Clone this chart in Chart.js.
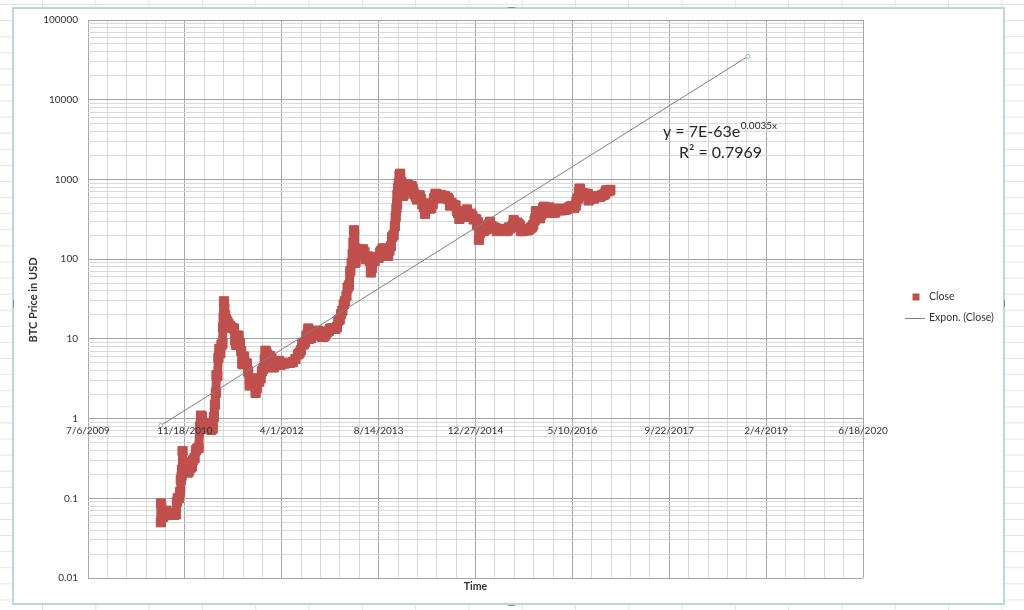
<!DOCTYPE html>
<html>
<head>
<meta charset="utf-8">
<script src="https://cdn.jsdelivr.net/npm/chart.js@4.4.1/dist/chart.umd.min.js"></script>
<style>
  html, body { margin: 0; padding: 0; }
  body {
    width: 1024px; height: 610px; overflow: hidden; position: relative;
    background-color: #ffffff;
    background-image:
      linear-gradient(to right, #E3E3E3 0, #E3E3E3 1px, transparent 1px),
      linear-gradient(to bottom, #E3E3E3 0, #E3E3E3 1px, transparent 1px);
    background-size: 53.3px 100%, 100% 16.1px;
    background-position: 42px 0, 0 4px;
  }
  #frame {
    position: absolute; left: 12px; top: 7px; width: 989px; height: 594px;
    border: 2px solid #B7DADA; background: #ffffff;
  }
  .h { position: absolute; width: 7px; height: 3px;
       background-image: radial-gradient(circle, #8a8a8a 0.6px, transparent 0.8px);
       background-size: 2px 3px; }
  .v { position: absolute; width: 3px; height: 7px;
       background-image: radial-gradient(circle, #8a8a8a 0.6px, transparent 0.8px);
       background-size: 3px 2px; }
  #c { position: absolute; left: 0; top: 0; }
</style>
</head>
<body>
<div id="frame"></div>
<div class="h" style="left:508px;top:6px"></div>
<div class="h" style="left:508px;top:604px"></div>
<div class="v" style="left:1003px;top:300px"></div>
<div class="v" style="left:12px;top:300px"></div>
<canvas id="c" width="1024" height="610"></canvas>
<script>
// ---- axis ticks (Excel date serials) ----
const xTickValues = [40000, 40500, 41000, 41500, 42000, 42500, 43000, 43500, 44000];
const xTickLabels = ['7/6/2009', '11/18/2010', '4/1/2012', '8/14/2013', '12/27/2014', '5/10/2016', '9/22/2017', '2/4/2019', '6/18/2020'];
const yTickValues = [0.01, 0.1, 1, 10, 100, 1000, 10000, 100000];
const yTickLabels = ['0.01', '0.1', '1', '10', '100', '1000', '10000', '100000'];

// ---- Close series: x = Excel date serial, y = price in USD ----
const closeDates = [
  40376, 40377, 40381, 40387, 40395, 40405, 40415, 40426, 40436, 40446, 40454, 40459, 40463, 40469, 40475, 40479,
  40483, 40486, 40488, 40491, 40496, 40502, 40509, 40515, 40522, 40529, 40536, 40543,
  40550, 40557, 40564, 40571, 40578, 40583, 40588, 40595, 40602, 40609, 40616, 40623, 40630, 40637, 40644, 40650,
  40655, 40660, 40663, 40668, 40673, 40678, 40683, 40689, 40694, 40697, 40700, 40702, 40704, 40708, 40713, 40719,
  40725, 40732, 40739, 40746, 40753, 40760, 40765, 40770, 40777, 40784, 40791, 40796, 40801, 40806, 40813, 40820,
  40827, 40834, 40838, 40845, 40852, 40859, 40865, 40871, 40877, 40884, 40891, 40898, 40905,
  40912, 40916, 40920, 40926, 40933, 40940, 40947, 40954, 40959, 40966, 40973, 40980, 40987, 40994, 41001, 41015,
  41029, 41043, 41057, 41071, 41085, 41092, 41099, 41106, 41113, 41120, 41127, 41134, 41137, 41140, 41145, 41152,
  41159, 41166, 41173, 41180, 41187, 41194, 41201, 41208, 41215, 41222, 41229, 41236, 41243, 41250, 41257, 41264, 41271,
  41278, 41285, 41292, 41299, 41306, 41313, 41320, 41327, 41334, 41340, 41347, 41354, 41361, 41366, 41370, 41373,
  41375, 41378, 41381, 41385, 41392, 41399, 41406, 41413, 41420, 41427, 41434, 41441, 41448, 41455, 41460, 41465,
  41472, 41479, 41486, 41493, 41500, 41507, 41514, 41521, 41528, 41535, 41542, 41549, 41556, 41563, 41570, 41577,
  41584, 41588, 41592, 41595, 41597, 41600, 41604, 41608, 41611, 41614, 41617, 41621, 41625, 41629, 41634, 41638,
  41643, 41647, 41651, 41657, 41664, 41671, 41676, 41680, 41685, 41692, 41698, 41705, 41712, 41719, 41726, 41733,
  41739, 41744, 41751, 41758, 41765, 41772, 41779, 41786, 41793, 41800, 41807, 41814, 41821, 41828, 41835, 41842,
  41849, 41856, 41863, 41869, 41876, 41883, 41890, 41897, 41904, 41911, 41917, 41922, 41929, 41936, 41943, 41950,
  41956, 41963, 41970, 41977, 41984, 41991, 41998, 42004,
  42008, 42012, 42016, 42018, 42022, 42029, 42036, 42043, 42050, 42057, 42064, 42071, 42075, 42082, 42089, 42096,
  42103, 42110, 42117, 42124, 42131, 42138, 42145, 42152, 42159, 42166, 42173, 42180, 42187, 42194, 42197, 42201,
  42208, 42215, 42222, 42229, 42235, 42242, 42249, 42256, 42263, 42270, 42277, 42284, 42291, 42298, 42305, 42309,
  42312, 42316, 42320, 42326, 42333, 42339, 42343, 42349, 42353, 42359, 42366,
  42374, 42381, 42384, 42391, 42398, 42405, 42412, 42419, 42426, 42433, 42440, 42447, 42454, 42461, 42468, 42475,
  42482, 42489, 42496, 42503, 42510, 42517, 42521, 42526, 42531, 42534, 42537, 42540, 42543, 42547, 42552, 42559,
  42566, 42573, 42580, 42584, 42591, 42598, 42605, 42612, 42619, 42626, 42633, 42640, 42647, 42654, 42661, 42668,
  42671, 42675, 42682, 42689, 42696
];
const closeValues = [
  0.05, 0.086, 0.065, 0.058, 0.061, 0.07, 0.065, 0.062, 0.062, 0.062, 0.063, 0.09, 0.1, 0.1, 0.12, 0.17,
  0.19, 0.23, 0.39, 0.27, 0.24, 0.28, 0.28, 0.21, 0.22, 0.24, 0.25, 0.30,
  0.32, 0.40, 0.42, 0.43, 0.80, 1.09, 1.06, 0.88, 0.86, 0.88, 0.87, 0.77, 0.79, 0.72, 0.75, 1.05,
  1.5, 2.1, 3.5, 3.4, 5.8, 7.5, 6.6, 8.4, 8.7, 14, 18.5, 29.6, 24, 19.5, 17.5, 16.5,
  15.4, 14.5, 13.9, 13.7, 13.5, 9.5, 8.4, 11.0, 10.9, 8.9, 7.0, 4.9, 4.8, 6.0, 5.0, 4.9,
  3.9, 2.6, 3.1, 3.2, 3.0, 2.9, 2.1, 2.4, 3.0, 2.9, 3.2, 3.9, 4.2,
  5.6, 7.1, 6.8, 6.3, 5.8, 6.1, 5.7, 4.4, 4.4, 4.9, 5.0, 4.9, 5.3, 4.7, 4.9, 4.9,
  5.0, 5.0, 5.1, 5.6, 6.4, 6.7, 7.2, 8.7, 8.5, 9.0, 10.9, 11.6, 13.5, 10.0, 10.5, 10.2,
  11.0, 11.3, 12.3, 12.4, 12.7, 11.9, 11.8, 10.6, 10.6, 10.9, 11.8, 12.3, 12.6, 13.4, 13.5, 13.5, 13.4,
  13.4, 14.1, 16.9, 17.5, 20.4, 22.6, 27.1, 29.9, 34.5, 44, 47, 71, 89, 117, 162, 230,
  140, 90, 93, 127, 134, 112, 117, 123, 133, 122, 100, 100, 108, 94, 68, 77,
  97, 94, 106, 106, 104, 121, 128, 136, 136, 127, 134, 110, 128, 145, 190, 200,
  260, 340, 430, 490, 640, 780, 900, 1130, 1180, 780, 930, 880, 620, 650, 740, 760,
  860, 830, 860, 820, 830, 820, 770, 690, 650, 600, 560, 630, 630, 570, 490, 450,
  370, 500, 490, 440, 430, 440, 490, 580, 660, 650, 610, 580, 640, 620, 620, 620,
  580, 590, 560, 470, 510, 480, 475, 470, 400, 375, 320, 360, 380, 355, 340, 345,
  420, 355, 370, 370, 350, 315, 320, 315,
  265, 290, 270, 175, 210, 255, 225, 225, 235, 240, 260, 275, 295, 260, 250, 250,
  245, 225, 235, 235, 235, 240, 235, 237, 225, 230, 250, 243, 255, 270, 310, 278,
  277, 288, 278, 265, 225, 225, 228, 238, 230, 231, 236, 245, 252, 268, 305, 325,
  400, 380, 330, 335, 325, 360, 395, 435, 455, 440, 425,
  432, 445, 380, 385, 380, 385, 385, 420, 430, 410, 420, 410, 417, 417, 420, 430,
  445, 455, 460, 455, 440, 470, 530, 575, 580, 700, 765, 760, 660, 630, 675, 655,
  665, 655, 655, 545, 590, 580, 585, 575, 610, 608, 610, 605, 612, 640, 640, 655,
  690, 730, 710, 715, 740
];

// ---- Exponential trendline endpoints (as drawn, incl. forecast) ----
const trendDates = [40376, 43406];
const trendValues = [0.82, 35000];

const RED = '#C0504D';
const MAJOR = '#A6A6A6';
const MINOR = '#D9D9D9';
const TEXT = '#333333';
const FONT = 'Lato, "Liberation Sans", sans-serif';

const annotations = {
  id: 'annotations',
  afterDraw(chart) {
    const ctx = chart.ctx;
    ctx.save();
    ctx.fillStyle = TEXT;
    // axis titles
    ctx.textAlign = 'center';
    ctx.textBaseline = 'middle';
    const a = chart.chartArea;
    ctx.font = 'bold 10.5px ' + FONT;
    ctx.fillText('Time', (a.left + a.right) / 2, 587);
    ctx.save();
    ctx.translate(33, 300);
    ctx.rotate(-Math.PI / 2);
    ctx.font = 'bold 11px ' + FONT;
    ctx.fillText('BTC Price in USD', 0, 0);
    ctx.restore();
    // equation
    ctx.textAlign = 'left';
    ctx.textBaseline = 'alphabetic';
    ctx.fillStyle = '#262626';
    ctx.font = '16px ' + FONT;
    const t1 = 'y = 7E-63e';
    ctx.fillText(t1, 663, 137);
    const w1 = ctx.measureText(t1).width;
    ctx.font = '10px ' + FONT;
    ctx.fillText('0.0035x', 663 + w1 + 0.5, 129);
    ctx.font = '16px ' + FONT;
    ctx.fillText('R\u00B2 = 0.7969', 679, 158);
    // legend
    ctx.fillStyle = RED;
    ctx.fillRect(912.5, 293.5, 7, 7);
    ctx.strokeStyle = '#7F7F7F';
    ctx.lineWidth = 1;
    ctx.beginPath();
    ctx.moveTo(905, 318.5);
    ctx.lineTo(925, 318.5);
    ctx.stroke();
    ctx.fillStyle = TEXT;
    ctx.font = '10.5px ' + FONT;
    ctx.textBaseline = 'middle';
    ctx.fillText(chart.data.datasets[1].label, 929, 297);
    ctx.fillText(chart.data.datasets[0].label, 929, 318);
    ctx.restore();
  }
};

function draw() {
  new Chart(document.getElementById('c'), {
    type: 'scatter',
    data: {
      datasets: [
        {
          label: 'Expon. (Close)',
          data: trendDates.map((x, i) => ({ x: x, y: trendValues[i] })),
          showLine: true,
          borderColor: '#7F7F7F',
          borderWidth: 1,
          pointRadius: 2,
          pointBackgroundColor: '#ffffff',
          pointBorderColor: '#8DB3E2',
          pointBorderWidth: 1,
          order: 1
        },
        {
          label: 'Close',
          data: closeDates.map((x, i) => ({ x: x, y: closeValues[i] })),
          showLine: true,
          borderColor: RED,
          borderWidth: 9,
          borderJoinStyle: 'round',
          backgroundColor: RED,
          pointStyle: 'rect',
          pointRadius: 6.5,
          pointBorderWidth: 1,
          pointBorderColor: RED,
          pointBackgroundColor: RED,
          order: 2
        }
      ]
    },
    options: {
      responsive: false,
      animation: false,
      devicePixelRatio: 1,
      layout: { padding: { top: 20, right: 161, bottom: 32, left: 0 } },
      plugins: { legend: { display: false }, tooltip: { enabled: false } },
      events: [],
      scales: {
        x: {
          type: 'linear',
          position: { y: 1 },
          min: xTickValues[0],
          max: xTickValues[xTickValues.length - 1],
          afterBuildTicks: (s) => {
            const t = [];
            for (let v = xTickValues[0]; v <= xTickValues[xTickValues.length - 1]; v += 100) t.push({ value: v });
            s.ticks = t;
          },
          afterFit: (s) => { s.height = 0; },
          border: { display: false },
          grid: {
            drawTicks: false,
            color: (c) => (c.tick && xTickValues.includes(c.tick.value)) ? MAJOR : MINOR,
            lineWidth: 1
          },
          ticks: {
            z: 1,
            autoSkip: false, maxRotation: 0, minRotation: 0, padding: 6,
            color: TEXT, font: { family: FONT, size: 10 },
            callback: (v) => { const i = xTickValues.indexOf(v); return i >= 0 ? xTickLabels[i] : ''; }
          }
        },
        y: {
          type: 'logarithmic',
          min: yTickValues[0],
          max: yTickValues[yTickValues.length - 1],
          afterBuildTicks: (s) => {
            const t = [];
            yTickValues.forEach((d, i) => {
              t.push({ value: d });
              if (i < yTickValues.length - 1) for (let m = 2; m <= 9; m++) t.push({ value: d * m });
            });
            s.ticks = t;
          },
          afterFit: (s) => { s.width = 88; },
          border: { display: false },
          grid: {
            drawTicks: false,
            color: (c) => (c.tick && yTickValues.includes(c.tick.value)) ? MAJOR : MINOR,
            lineWidth: 1
          },
          ticks: {
            autoSkip: false, padding: 10,
            color: TEXT, font: { family: FONT, size: 10 },
            callback: (v) => { const i = yTickValues.indexOf(v); return i >= 0 ? yTickLabels[i] : ''; }
          }
        }
      }
    },
    plugins: [annotations]
  });
}

if (document.fonts && document.fonts.load) {
  Promise.all([
    document.fonts.load('10px Lato'),
    document.fonts.load('bold 10px Lato')
  ]).then(draw, draw);
} else {
  draw();
}
</script>
</body>
</html>
